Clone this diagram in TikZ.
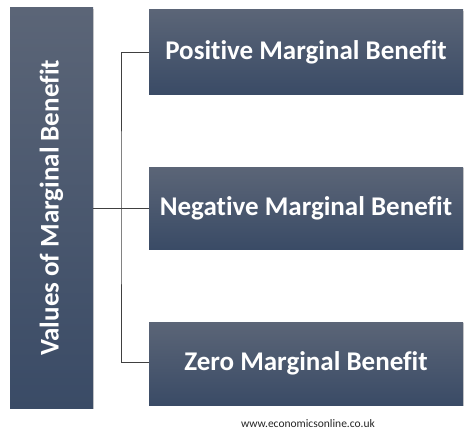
\documentclass[tikz,border=0pt]{standalone}
\usepackage{fontspec}
\setmainfont[Ligatures=NoCommon]{Carlito}
\usetikzlibrary{shadows}
\definecolor{boxtop}{HTML}{5B6577}
\definecolor{boxbot}{HTML}{3A4B66}
\definecolor{linecol}{HTML}{404040}
\tikzset{
  box/.style={draw=none, top color=boxtop, bottom color=boxbot, drop shadow={opacity=0.35, shadow xshift=1pt, shadow yshift=-1pt}},
  lbl/.style={text=white, font=\bfseries\fontsize{27}{30}\selectfont},
  conn/.style={draw=linecol, line width=0.8pt}
}
\begin{document}
\begin{tikzpicture}[x=1pt,y=-1pt]
\useasboundingbox[fill=white] (0,0) rectangle (474,436);
\path[box] (10,8) rectangle (93,408);
\node[lbl, rotate=90] (L) at (51.5,208) {Values of Marginal Benefit};
\coordinate (Lr) at (93,208);
\path[box] (149,10) rectangle (463,94);
\node[lbl] (A) at (306,52) {Positive Marginal Benefit};
\coordinate (Al) at (149,52);
\path[box] (149,167) rectangle (463,249);
\node[lbl] (B) at (306,208) {Negative Marginal Benefit};
\coordinate (Bl) at (149,208);
\path[box] (149,322) rectangle (463,405);
\node[lbl] (C) at (306,363) {Zero Marginal Benefit};
\coordinate (Cl) at (149,362);
\coordinate (J) at (121,208);
\draw[conn] (Lr) -- (Bl);
\draw[conn] (Al) -| (J) |- (Cl);
\node[font=\fontsize{11.5}{13}\selectfont, text=black!85] (W) at (308,424) {www.economicsonline.co.uk};
\end{tikzpicture}
\end{document}
